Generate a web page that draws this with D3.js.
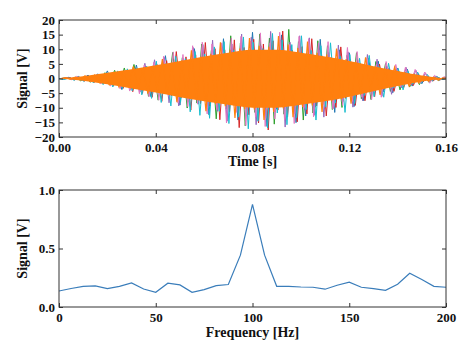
<!DOCTYPE html>
<html>
<head>
<meta charset="utf-8">
<script src="https://cdn.jsdelivr.net/npm/d3@7"></script>
<style>
  body { margin: 0; background: #fff; }
  text { font-family: "Liberation Serif", "Times New Roman", serif; font-weight: bold; fill: #111; }
</style>
</head>
<body>
<div id="container"></div>
<script>
// ---------------- data ----------------
// time samples of the noisy signals (step 0.002 s)
var sampleTimes = d3.range(81).map(function (i) { return i * 0.002; });
var seriesShift = [0, 0.001, 0.0005, 0.0015, 0.00025, 0.00125];
var seriesColors = ["#1f77b4", "#2ca02c", "#d62728", "#9467bd", "#17becf", "#e377c2"];

var sigBlue = [0, -0.2, 0.4, -0.3, 0.7, -0.5, 1.2, -0.8, 1.6, -1.1,
  2.6, -1.8, 1.5, -3.8, 2.9, -2.2, 4.6, -3.1, 2.4, -6.2,
  4.1, -3.5, 7.8, -4.2, 3.9, -9.1, 5.5, -6.8, 10.2, -4.8,
  6.5, -12.4, 7.2, -5.9, 13.6, -8.1, 6.4, -14.2, 9.5, -7.6,
  15.8, -9.2, 7.1, -16.4, 8.3, -10.5, 14.9, -6.8, 11.2, -15.1,
  7.9, -12.8, 6.2, -9.8, 13.4, -7.2, 5.6, -11.6, 9.8, -4.9,
  8.8, -9.6, 4.2, -7.6, 6.9, -3.8, 5.9, -4.6, 2.8, -4.9,
  3.6, -1.9, 3.2, -2.6, 1.4, -1.8, 1.1, -0.6, 0.7, -0.2, 0];
var sigGreen = [0, 0.3, -0.2, 0.4, -0.8, 0.5, -1.3, 0.9, -1.1, 2.0,
  -1.4, 2.8, -2.1, 3.6, -2.5, 4.8, -3.2, 3.9, -6.1, 4.4,
  -7.4, 5.1, -4.6, 8.9, -5.8, 7.1, -10.1, 6.2, -8.4, 11.8,
  -7.2, 9.6, -13.8, 8.1, -10.4, 14.6, -9.2, 12.1, -16.2, 9.8,
  -11.6, 15.2, -8.9, 13.8, -15.6, 9.4, -12.2, 16.8, -10.1, 12.6,
  -14.2, 8.6, -11.8, 12.9, -7.4, 11.2, -10.6, 6.8, -9.9, 7.9,
  -5.6, 8.8, -6.9, 4.6, -7.2, 5.8, -3.6, 5.1, -4.4, 2.6,
  -3.9, 2.2, -2.9, 1.6, -2.1, 0.9, -1.3, 0.5, -0.7, 0.2, 0];
var sigRed = [0, -0.1, 0.3, -0.5, 0.4, -0.9, 0.6, -1.4, 0.9, -1.8,
  1.3, -2.6, 1.9, -3.4, 2.4, -4.5, 3.1, -5.1, 3.6, -6.4,
  4.8, -7.8, 6.1, -5.9, 9.2, -6.6, 7.4, -10.8, 8.1, -8.6,
  12.3, -9.4, 10.2, -14.1, 9.8, -11.5, 13.2, -16.8, 10.6, -12.4,
  13.4, -15.2, 11.8, -17.6, 12.9, -10.8, 16.2, -13.1, 9.6, -14.8,
  10.9, -12.1, 13.6, -9.4, 8.8, -12.8, 7.2, -9.9, 10.8, -6.8,
  6.4, -9.2, 5.1, -7.6, 4.3, -6.2, 4.9, -3.8, 3.6, -4.4,
  2.4, -3.1, 1.9, -2.4, 1.6, -1.2, 0.8, -0.9, 0.3, -0.3, 0];
var sigPurple = [0, 0.2, -0.3, 0.2, -0.6, 0.9, -0.5, 1.3, -1.6, 1.0,
  -2.2, 1.7, -3.1, 2.4, -3.8, 2.9, -4.6, 5.2, -3.6, 6.4,
  -5.2, 7.2, -8.3, 5.6, -9.4, 6.8, -7.9, 10.6, -8.8, 11.6,
  -9.6, 13.1, -11.2, 10.4, -14.6, 11.8, -10.2, 15.2, -12.8, 14.1,
  -15.8, 11.2, -13.6, 16.1, -11.4, 13.2, -16.6, 12.4, -12.2, 14.6,
  -10.8, 13.9, -12.6, 9.8, -13.2, 8.9, -10.2, 11.4, -7.8, 9.1,
  -9.8, 6.2, -7.6, 8.2, -5.2, 6.6, -6.1, 4.2, -5.4, 3.4,
  -3.2, 3.8, -2.2, 2.9, -1.4, 1.9, -1.1, 0.8, -0.5, 0.3, 0];
var sigCyan = [0, -0.3, 0.2, -0.6, 0.5, -1.0, 0.6, -1.5, 1.2, -2.1,
  1.6, -2.9, 2.6, -3.4, 3.3, -4.2, 3.6, -5.6, 4.2, -6.8,
  5.9, -8.2, 5.1, -9.4, 7.6, -8.1, 6.8, -11.4, 9.2, -12.6,
  8.4, -13.6, 10.8, -11.2, 12.6, -15.4, 9.8, -13.2, 14.2, -17.2,
  12.4, -14.6, 10.2, -16.9, 15.4, -11.8, 13.2, -15.8, 11.6, -13.4,
  14.6, -10.6, 9.6, -14.2, 11.2, -9.8, 12.2, -8.4, 7.6, -11.6,
  8.2, -8.6, 6.9, -5.8, 7.9, -6.2, 4.1, -6.4, 5.2, -3.2,
  3.4, -3.9, 2.6, -1.9, 2.2, -1.2, 1.4, -0.9, 0.6, -0.3, 0];
var sigPink = [0, 0.2, -0.4, 0.7, -0.3, 0.5, -1.2, 1.1, -1.8, 1.5,
  -2.6, 2.1, -3.5, 2.8, -4.3, 3.2, -5.2, 4.6, -6.2, 5.6,
  -7.4, 7.6, -5.8, 9.1, -8.4, 8.2, -9.6, 11.2, -8.6, 12.4,
  -12.1, 11.8, -10.6, 12.2, -15.2, 13.8, -11.6, 14.4, -16.1, 12.8,
  -13.2, 15.6, -16.4, 12.2, -13.8, 15.8, -14.2, 11.6, -15.4, 14.4,
  -10.2, 13.6, -13.1, 12.2, -8.9, 12.6, -10.4, 9.4, -9.2, 10.6,
  -7.8, 9.2, -6.4, 6.8, -7.2, 4.8, -6.4, 5.8, -3.4, 4.8,
  -2.9, 3.9, -2.1, 3.1, -1.4, 2.2, -1.6, 1.1, -0.5, 0.6, 0];
var sigOrange = [0, 0.3, -0.2, 0.5, -0.3, 0.9, -0.6, 1.2, -1.4, 0.8,
  -2.1, 1.6, -2.8, 2.2, -2.4, 4.1, -3.1, 3.4, -5.2, 4.2,
  -4.1, 6.6, -5.2, 5.4, -8.1, 6.1, -6.4, 9.6, -7.2, 7.5,
  -11.2, 8.4, -8.8, 12.4, -9.5, 9.8, -13.5, 10.2, -10.4, 13.8,
  -10.6, 11.2, -14.2, 10.8, -11.4, 14.5, -10.2, 11.6, -13.2, 10.4,
  -9.8, 12.6, -9.2, 8.8, -11.4, 8.2, -7.8, 10.2, -7.1, 6.6,
  -8.6, 5.8, -5.4, 7.2, -4.4, 4.1, -5.6, 3.4, -2.8, 3.9,
  -2.2, 1.9, -2.6, 1.3, -1.5, 0.8, -0.9, 0.4, -0.5, 0.2, 0];

// solid orange core (every 0.01 s)
var coreTimes = [0, 0.01, 0.02, 0.03, 0.04, 0.05, 0.06, 0.07, 0.08, 0.09, 0.10, 0.11, 0.12, 0.13, 0.14, 0.15, 0.16];
var coreUpper = [0, 0.8, 2, 3.2, 4.5, 6, 7.5, 8.8, 9.8, 9.8, 8.8, 7.5, 6, 4.2, 2.6, 1, 0];
var coreLower = [0, -0.8, -2, -3.4, -4.8, -6.4, -7.8, -9, -10, -10, -9, -7.8, -6.2, -4.4, -2.6, -1, 0];

var signalSeries = [sigBlue, sigGreen, sigRed, sigPurple, sigCyan, sigPink];

// spectrum
var freqs = d3.range(33).map(function (k) { return k * 6.25; });
var spectrum = [0.137, 0.158, 0.177, 0.18, 0.157, 0.177, 0.206, 0.154, 0.126, 0.203,
  0.189, 0.126, 0.149, 0.183, 0.192, 0.443, 0.877, 0.443, 0.177, 0.177,
  0.171, 0.169, 0.152, 0.186, 0.212, 0.169, 0.157, 0.143, 0.194, 0.289,
  0.235, 0.177, 0.169];

var timeTicks = [0, 0.04, 0.08, 0.12, 0.16];
var signalTicks = [-20, -15, -10, -5, 0, 5, 10, 15, 20];
var freqTicks = [0, 50, 100, 150, 200];
var ampTicks = [0, 0.5, 1.0];

// ---------------- layout ----------------
var width = 474, height = 355;
var left = 59, right = 446;
var top1 = 20, bottom1 = 137;
var top2 = 190, bottom2 = 307;

var svg = d3.select("#container").append("svg")
  .attr("width", width)
  .attr("height", height);

var xTime = d3.scaleLinear().domain([0, 0.16]).range([left, right]);
var ySig = d3.scaleLinear().domain([-20, 20]).range([bottom1, top1]);
var xFreq = d3.scaleLinear().domain([0, 200]).range([left, right]);
var yAmp = d3.scaleLinear().domain([0, 1]).range([bottom2, top2]);

function frame(x, y, t, b, xt, yt, xf, yf) {
  var g = svg.append("g");
  // bottom axis with labels, top axis without, ticks inward
  g.append("g").attr("transform", "translate(0," + b + ")")
    .call(d3.axisBottom(x).tickValues(xt).tickFormat(xf).tickSizeInner(-4).tickSizeOuter(0).tickPadding(6));
  g.append("g").attr("transform", "translate(0," + t + ")")
    .call(d3.axisTop(x).tickValues(xt).tickFormat("").tickSizeInner(-4).tickSizeOuter(0));
  g.append("g").attr("transform", "translate(" + left + ",0)")
    .call(d3.axisLeft(y).tickValues(yt).tickFormat(yf).tickSizeInner(-4).tickSizeOuter(0).tickPadding(4));
  g.append("g").attr("transform", "translate(" + right + ",0)")
    .call(d3.axisRight(y).tickValues(yt).tickFormat("").tickSizeInner(-4).tickSizeOuter(0));
  g.selectAll(".domain").remove();
  g.selectAll(".tick line").attr("stroke", "#333");
  g.selectAll(".tick text")
    .style("font-family", "'Liberation Serif', serif")
    .style("font-weight", "bold")
    .style("font-size", "13px")
    .attr("fill", "#111");
  g.append("rect")
    .attr("x", left).attr("y", t)
    .attr("width", right - left).attr("height", b - t)
    .attr("fill", "none").attr("stroke", "#333").attr("stroke-width", 1);
  return g;
}

// ---------------- top: time signal ----------------
svg.append("clipPath").attr("id", "clip1")
  .append("rect").attr("x", left).attr("y", top1)
  .attr("width", right - left).attr("height", bottom1 - top1);

var plot1 = svg.append("g").attr("clip-path", "url(#clip1)");

signalSeries.forEach(function (s, j) {
  var line = d3.line()
    .x(function (d, i) { return xTime(sampleTimes[i] + seriesShift[j]); })
    .y(function (d) { return ySig(d); });
  plot1.append("path")
    .attr("d", line(s))
    .attr("fill", "none")
    .attr("stroke", seriesColors[j])
    .attr("stroke-width", 1);
});

var core = d3.area()
  .x(function (d, i) { return xTime(coreTimes[i]); })
  .y0(function (d, i) { return ySig(coreLower[i]); })
  .y1(function (d) { return ySig(d); })
  .curve(d3.curveMonotoneX);
plot1.append("path")
  .attr("d", core(coreUpper))
  .attr("fill", "#ff7f0e");

plot1.append("path")
  .attr("d", d3.line()
    .x(function (d, i) { return xTime(sampleTimes[i] + 0.00075); })
    .y(function (d) { return ySig(d); })(sigOrange))
  .attr("fill", "none")
  .attr("stroke", "#ff7f0e")
  .attr("stroke-width", 1.2);

frame(xTime, ySig, top1, bottom1, timeTicks, signalTicks, d3.format(".2f"),
  function (d) { return d < 0 ? "\u2212" + Math.abs(d) : d; });

svg.append("text")
  .attr("x", (left + right) / 2).attr("y", 166)
  .attr("text-anchor", "middle")
  .style("font-size", "14px")
  .text("Time [s]");

svg.append("text")
  .attr("transform", "translate(27," + ((top1 + bottom1) / 2) + ") rotate(-90)")
  .attr("text-anchor", "middle")
  .style("font-size", "14px")
  .text("Signal [V]");

// ---------------- bottom: spectrum ----------------
svg.append("path")
  .attr("d", d3.line()
    .x(function (d, i) { return xFreq(freqs[i]); })
    .y(function (d) { return yAmp(d); })(spectrum))
  .attr("fill", "none")
  .attr("stroke", "#3a7dba")
  .attr("stroke-width", 1.2);

frame(xFreq, yAmp, top2, bottom2, freqTicks, ampTicks, d3.format("d"), d3.format(".1f"));

svg.append("text")
  .attr("x", (left + right) / 2).attr("y", 337)
  .attr("text-anchor", "middle")
  .style("font-size", "14px")
  .text("Frequency [Hz]");

svg.append("text")
  .attr("transform", "translate(27," + ((top2 + bottom2) / 2) + ") rotate(-90)")
  .attr("text-anchor", "middle")
  .style("font-size", "14px")
  .text("Signal [V]");
</script>
</body>
</html>
